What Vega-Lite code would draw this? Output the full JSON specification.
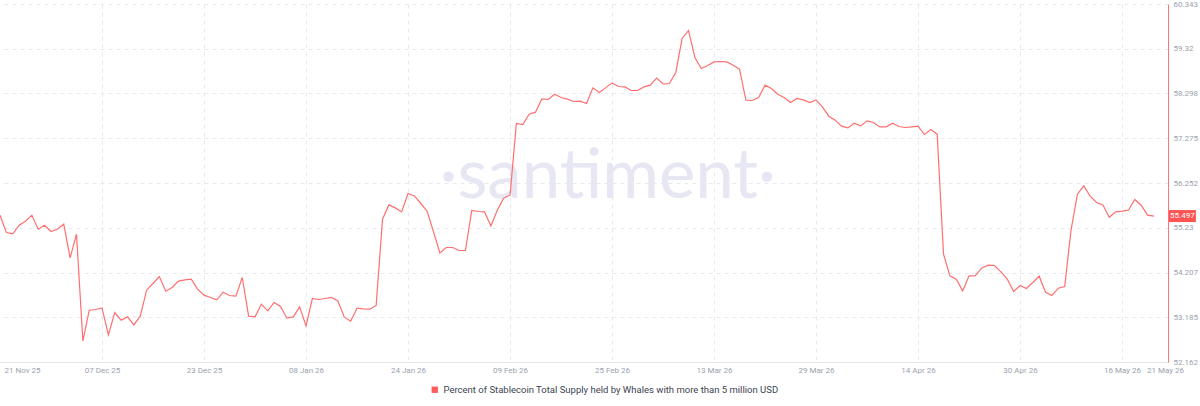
{
  "$schema": "https://vega.github.io/schema/vega-lite/v6.json",
  "width": 1168,
  "height": 358,
  "autosize": "none",
  "padding": {"left": 0, "top": 4, "right": 32, "bottom": 44},
  "background": "#ffffff",
  "config": {
    "view": {"stroke": null},
    "font": "Roboto"
  },
  "datasets": {
    "series": [
      {"d":"2025-11-21","v":55.517},{"d":"2025-11-22","v":55.121},{"d":"2025-11-23","v":55.089},{"d":"2025-11-24","v":55.288},{"d":"2025-11-25","v":55.380},{"d":"2025-11-26","v":55.517},{"d":"2025-11-27","v":55.197},{"d":"2025-11-28","v":55.288},{"d":"2025-11-29","v":55.144},{"d":"2025-11-30","v":55.197},
      {"d":"2025-12-01","v":55.311},{"d":"2025-12-02","v":54.541},{"d":"2025-12-03","v":55.083},{"d":"2025-12-04","v":52.644},{"d":"2025-12-05","v":53.346},{"d":"2025-12-06","v":53.362},{"d":"2025-12-07","v":53.398},{"d":"2025-12-08","v":52.781},{"d":"2025-12-09","v":53.293},{"d":"2025-12-10","v":53.117},
      {"d":"2025-12-11","v":53.193},{"d":"2025-12-12","v":53.010},{"d":"2025-12-13","v":53.209},{"d":"2025-12-14","v":53.803},{"d":"2025-12-15","v":53.956},{"d":"2025-12-16","v":54.116},{"d":"2025-12-17","v":53.780},{"d":"2025-12-18","v":53.865},{"d":"2025-12-19","v":54.009},{"d":"2025-12-20","v":54.038},
      {"d":"2025-12-21","v":54.054},{"d":"2025-12-22","v":53.826},{"d":"2025-12-23","v":53.689},{"d":"2025-12-24","v":53.636},{"d":"2025-12-25","v":53.581},{"d":"2025-12-26","v":53.757},{"d":"2025-12-27","v":53.682},{"d":"2025-12-28","v":53.666},{"d":"2025-12-29","v":54.093},{"d":"2025-12-30","v":53.209},{"d":"2025-12-31","v":53.193},
      {"d":"2026-01-01","v":53.483},{"d":"2026-01-02","v":53.330},{"d":"2026-01-03","v":53.522},{"d":"2026-01-04","v":53.430},{"d":"2026-01-05","v":53.163},{"d":"2026-01-06","v":53.193},{"d":"2026-01-07","v":53.421},{"d":"2026-01-08","v":52.987},{"d":"2026-01-09","v":53.613},{"d":"2026-01-10","v":53.590},
      {"d":"2026-01-11","v":53.613},{"d":"2026-01-12","v":53.636},{"d":"2026-01-13","v":53.558},{"d":"2026-01-14","v":53.193},{"d":"2026-01-15","v":53.095},{"d":"2026-01-16","v":53.392},{"d":"2026-01-17","v":53.376},{"d":"2026-01-18","v":53.369},{"d":"2026-01-19","v":53.453},{"d":"2026-01-20","v":55.425},
      {"d":"2026-01-21","v":55.752},{"d":"2026-01-22","v":55.684},{"d":"2026-01-23","v":55.592},{"d":"2026-01-24","v":56.013},{"d":"2026-01-25","v":55.958},{"d":"2026-01-26","v":55.784},{"d":"2026-01-27","v":55.608},{"d":"2026-01-28","v":55.135},{"d":"2026-01-29","v":54.655},{"d":"2026-01-30","v":54.779},{"d":"2026-01-31","v":54.779},
      {"d":"2026-02-01","v":54.710},{"d":"2026-02-02","v":54.710},{"d":"2026-02-03","v":55.624},{"d":"2026-02-04","v":55.601},{"d":"2026-02-05","v":55.592},{"d":"2026-02-06","v":55.272},{"d":"2026-02-07","v":55.631},{"d":"2026-02-08","v":55.905},{"d":"2026-02-09","v":55.974},{"d":"2026-02-10","v":57.612},
      {"d":"2026-02-11","v":57.589},{"d":"2026-02-12","v":57.825},{"d":"2026-02-13","v":57.871},{"d":"2026-02-14","v":58.175},{"d":"2026-02-15","v":58.161},{"d":"2026-02-16","v":58.282},{"d":"2026-02-17","v":58.206},{"d":"2026-02-18","v":58.168},{"d":"2026-02-19","v":58.115},{"d":"2026-02-20","v":58.122},
      {"d":"2026-02-21","v":58.069},{"d":"2026-02-22","v":58.426},{"d":"2026-02-23","v":58.321},{"d":"2026-02-24","v":58.426},{"d":"2026-02-25","v":58.540},{"d":"2026-02-26","v":58.458},{"d":"2026-02-27","v":58.449},{"d":"2026-02-28","v":58.366},
      {"d":"2026-03-01","v":58.366},{"d":"2026-03-02","v":58.449},{"d":"2026-03-03","v":58.488},{"d":"2026-03-04","v":58.648},{"d":"2026-03-05","v":58.517},{"d":"2026-03-06","v":58.526},{"d":"2026-03-07","v":58.778},{"d":"2026-03-08","v":59.555},{"d":"2026-03-09","v":59.738},{"d":"2026-03-10","v":59.121},
      {"d":"2026-03-11","v":58.869},{"d":"2026-03-12","v":58.938},{"d":"2026-03-13","v":59.020},{"d":"2026-03-14","v":59.029},{"d":"2026-03-15","v":59.020},{"d":"2026-03-16","v":58.945},{"d":"2026-03-17","v":58.853},{"d":"2026-03-18","v":58.145},{"d":"2026-03-19","v":58.138},{"d":"2026-03-20","v":58.206},
      {"d":"2026-03-21","v":58.488},{"d":"2026-03-22","v":58.412},{"d":"2026-03-23","v":58.282},{"d":"2026-03-24","v":58.206},{"d":"2026-03-25","v":58.092},{"d":"2026-03-26","v":58.184},{"d":"2026-03-27","v":58.152},{"d":"2026-03-28","v":58.092},{"d":"2026-03-29","v":58.152},{"d":"2026-03-30","v":57.992},{"d":"2026-03-31","v":57.779},
      {"d":"2026-04-01","v":57.688},{"d":"2026-04-02","v":57.551},{"d":"2026-04-03","v":57.512},{"d":"2026-04-04","v":57.619},{"d":"2026-04-05","v":57.557},{"d":"2026-04-06","v":57.672},{"d":"2026-04-07","v":57.635},{"d":"2026-04-08","v":57.535},{"d":"2026-04-09","v":57.535},{"d":"2026-04-10","v":57.619},
      {"d":"2026-04-11","v":57.544},{"d":"2026-04-12","v":57.521},{"d":"2026-04-13","v":57.535},{"d":"2026-04-14","v":57.551},{"d":"2026-04-15","v":57.361},{"d":"2026-04-16","v":57.475},{"d":"2026-04-17","v":57.368},{"d":"2026-04-18","v":54.626},{"d":"2026-04-19","v":54.130},{"d":"2026-04-20","v":54.054},
      {"d":"2026-04-21","v":53.787},{"d":"2026-04-22","v":54.130},{"d":"2026-04-23","v":54.134},{"d":"2026-04-24","v":54.312},{"d":"2026-04-25","v":54.374},{"d":"2026-04-26","v":54.367},{"d":"2026-04-27","v":54.221},{"d":"2026-04-28","v":54.054},{"d":"2026-04-29","v":53.773},{"d":"2026-04-30","v":53.910},
      {"d":"2026-05-01","v":53.842},{"d":"2026-05-02","v":53.979},{"d":"2026-05-03","v":54.123},{"d":"2026-05-04","v":53.757},{"d":"2026-05-05","v":53.682},{"d":"2026-05-06","v":53.849},{"d":"2026-05-07","v":53.888},{"d":"2026-05-08","v":55.174},{"d":"2026-05-09","v":55.997},{"d":"2026-05-10","v":56.186},
      {"d":"2026-05-11","v":55.951},{"d":"2026-05-12","v":55.807},{"d":"2026-05-13","v":55.752},{"d":"2026-05-14","v":55.471},{"d":"2026-05-15","v":55.592},{"d":"2026-05-16","v":55.608},{"d":"2026-05-17","v":55.631},{"d":"2026-05-18","v":55.876},{"d":"2026-05-19","v":55.745},{"d":"2026-05-20","v":55.517},{"d":"2026-05-21","v":55.497}
    ],
    "last": [{"d":"2026-05-21","v":55.497,"label":"55.497"}],
    "wm": [{"d":"2026-02-24T08:00:00Z","v":55.905,"t":"·santiment·"}]
  },
  "encoding": {
    "x": {
      "field": "d",
      "type": "temporal",
      "scale": {
        "type": "utc",
        "domain": [
          {"year": 2025, "month": 11, "date": 21, "utc": true},
          {"year": 2026, "month": 5, "date": 23, "hours": 5, "utc": true}
        ]
      },
      "axis": {
        "title": null,
        "orient": "bottom",
        "values": [
          {"year": 2025, "month": 11, "date": 21, "utc": true},
          {"year": 2025, "month": 12, "date": 7, "utc": true},
          {"year": 2025, "month": 12, "date": 23, "utc": true},
          {"year": 2026, "month": 1, "date": 8, "utc": true},
          {"year": 2026, "month": 1, "date": 24, "utc": true},
          {"year": 2026, "month": 2, "date": 9, "utc": true},
          {"year": 2026, "month": 2, "date": 25, "utc": true},
          {"year": 2026, "month": 3, "date": 13, "utc": true},
          {"year": 2026, "month": 3, "date": 29, "utc": true},
          {"year": 2026, "month": 4, "date": 14, "utc": true},
          {"year": 2026, "month": 4, "date": 30, "utc": true},
          {"year": 2026, "month": 5, "date": 16, "utc": true},
          {"year": 2026, "month": 5, "date": 21, "utc": true}
        ],
        "labelExpr": "utcFormat(datum.value, '%d %b %y')",
        "grid": true,
        "gridColor": "#e6e9ef",
        "gridDash": [4, 4],
        "gridOpacity": {"condition": {"test": "datum.value > 1779000000000 || datum.value < 1763700000000", "value": 0}, "value": 1},
        "domain": true,
        "domainColor": "#e3e6ec",
        "ticks": false,
        "labelColor": "#9aa2ae",
        "labelFontSize": 8,
        "labelPadding": 4,
        "labelFlush": false,
        "labelOverlap": false,
        "labelAlign": {"condition": {"test": "datum.value < 1763700000000", "value": "left"}, "value": "center"},
        "labelOffset": {"condition": [
          {"test": "datum.value > 1779000000000", "value": 11},
          {"test": "datum.value < 1763700000000", "value": 4}
        ], "value": 0}
      }
    },
    "y": {
      "field": "v",
      "type": "quantitative",
      "scale": {"domain": [52.162, 60.343], "nice": false, "zero": false},
      "axis": {
        "title": null,
        "orient": "right",
        "values": [52.162, 53.185, 54.207, 55.23, 56.252, 57.275, 58.298, 59.32, 60.343],
        "format": ".3~f",
        "grid": true,
        "gridColor": "#e6e9ef",
        "gridDash": [4, 4],
        "domain": true,
        "domainColor": "#ff7676",
        "domainWidth": 1,
        "ticks": false,
        "labelColor": "#9aa2ae",
        "labelFontSize": 8,
        "labelPadding": 5,
        "labelFlush": false,
        "labelOverlap": false
      }
    }
  },
  "layer": [
    {
      "data": {"name": "wm"},
      "mark": {"type": "text", "font": "Lato", "fontWeight": 400, "fontSize": 69, "color": "#e6e7f3", "align": "center", "baseline": "alphabetic"},
      "encoding": {
        "text": {"field": "t"}
      }
    },
    {
      "data": {"name": "series"},
      "mark": {"type": "line", "strokeWidth": 1.2, "interpolate": "linear"},
      "encoding": {
        "color": {
          "datum": "Percent of Stablecoin Total Supply held by Whales with more than 5 million USD",
          "scale": {"range": ["#ff6f6f"]},
          "legend": {
            "title": null,
            "orient": "none",
            "legendX": 430,
            "legendY": 381,
            "symbolType": "square",
            "symbolSize": 40,
            "symbolStrokeWidth": 0,
            "labelFontSize": 9.5,
            "labelColor": "#3c4452",
            "labelFont": "Roboto",
            "labelLimit": 600,
            "encode": {"symbols": {"update": {"fill": {"value": "#ff5b5b"}, "fillOpacity": {"value": 1}, "stroke": {"value": "#ff5b5b"}}}}
          }
        }
      }
    },
    {
      "data": {"name": "last"},
      "mark": {"type": "rect", "width": 27, "height": 12, "xOffset": 28.5, "color": "#ff5454", "clip": false},
      "encoding": {}
    },
    {
      "data": {"name": "last"},
      "mark": {"type": "text", "color": "#ffffff", "fontSize": 8, "dx": 28.5, "align": "center", "baseline": "middle", "clip": false},
      "encoding": {"text": {"field": "label"}}
    }
  ]
}
